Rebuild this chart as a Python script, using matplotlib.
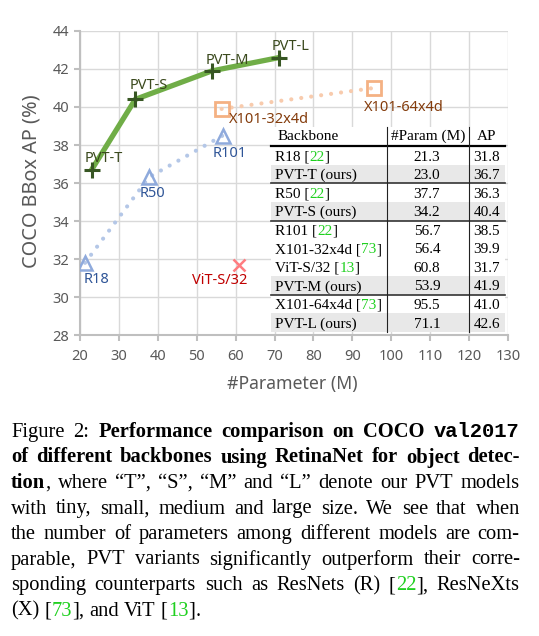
import matplotlib
matplotlib.use('Agg')
import matplotlib.pyplot as plt
from matplotlib.transforms import IdentityTransform
from matplotlib.patches import Rectangle
from matplotlib.lines import Line2D

W, H = 539, 636

# chart data
pvt_names = ['PVT-T', 'PVT-S', 'PVT-M', 'PVT-L']
pvt_params = [23.0, 34.2, 53.9, 71.1]
pvt_ap = [36.7, 40.4, 41.9, 42.6]

resnet_names = ['R18', 'R50', 'R101']
resnet_params = [21.3, 37.7, 56.7]
resnet_ap = [31.8, 36.3, 38.5]

resnext_names = ['X101-32x4d', 'X101-64x4d']
resnext_params = [56.4, 95.5]
resnext_ap = [39.9, 41.0]

vit_names = ['ViT-S/32']
vit_params = [60.8]
vit_ap = [31.7]

# inset table
tab_backbone = ['R18', 'PVT-T', 'R50', 'PVT-S', 'R101', 'X101-32x4d',
                'ViT-S/32', 'PVT-M', 'X101-64x4d', 'PVT-L']
tab_ref = ['22', '', '22', '', '22', '73', '13', '', '73', '']
tab_params = ['21.3', '23.0', '37.7', '34.2', '56.7', '56.4', '60.8', '53.9', '95.5', '71.1']
tab_ap = ['31.8', '36.7', '36.3', '40.4', '38.5', '39.9', '31.7', '41.9', '41.0', '42.6']

# label offsets in pixels (dx, dy of baseline anchor)
label_off = {
    'PVT-T': (12, 8), 'PVT-S': (13, 10), 'PVT-M': (15, 7), 'PVT-L': (12, 8),
    'R18': (-1, -20), 'R50': (-9, -20), 'R101': (-10, -21),
    'X101-32x4d': (7, -14), 'X101-64x4d': (-10, -23), 'ViT-S/32': (9, -19),
}

fig = plt.figure(figsize=(W / 100, H / 100), dpi=100)
renderer = fig.canvas.get_renderer()
px = IdentityTransform()

sans = 'Noto Sans'
ax = fig.add_axes([80 / W, 1 - 335 / H, 428 / W, 304 / H])
ax.set_xlim(20, 130)
ax.set_ylim(28, 44)
ax.set_xticks(range(20, 131, 10))
ax.set_yticks(range(28, 45, 2))
ax.grid(True, color='#D9D9D9', lw=1)
ax.set_axisbelow(True)
for s in ['top', 'right']:
    ax.spines[s].set_visible(False)
for s in ['left', 'bottom']:
    ax.spines[s].set_color('#BFBFBF')
    ax.spines[s].set_linewidth(1.5)
ax.tick_params(color='#BFBFBF', labelcolor='#595959', length=4, width=1.5,
               labelsize=10.5)
ax.tick_params(axis='x', pad=6)
ax.tick_params(axis='y', pad=4)
for lab in ax.get_xticklabels() + ax.get_yticklabels():
    lab.set_family(sans)
ax.set_xlabel('#Parameter (M)', family=sans, fontsize=12.7, color='#595959')
ax.set_ylabel('COCO BBox AP (%)', family=sans, fontsize=14.3, color='#595959')
ax.xaxis.set_label_coords(0.495, -0.13)
ax.yaxis.set_label_coords(-0.09, 0.507)

ax.plot(resnet_params, resnet_ap, color='#B4C7E7', lw=3, linestyle=(0, (0.01, 2.4)),
        dash_capstyle='round', zorder=2)
ax.plot(resnext_params, resnext_ap, color='#F8CBAD', lw=3, linestyle=(0, (0.01, 2.4)),
        dash_capstyle='round', zorder=2)
ax.plot(pvt_params, pvt_ap, color='#70AD47', lw=3.8, zorder=3)
ax.plot(pvt_params, pvt_ap, ls='none', marker='+', ms=11, mew=2.2, color='#375623', zorder=4)
ax.plot(resnet_params, resnet_ap, ls='none', marker='^', ms=10, mew=1.8,
        mfc='none', mec='#8FAADC', zorder=4)
ax.plot(resnext_params, resnext_ap, ls='none', marker='s', ms=10, mew=2,
        mfc='none', mec='#F4B183', zorder=4)
ax.plot(vit_params, vit_ap, ls='none', marker='x', ms=8, mew=1.8, color='#FF7C80', zorder=4)


def put_labels(names, xs, ys, color, ha):
    for n, x, y in zip(names, xs, ys):
        dx, dy = label_off[n]
        ax.annotate(n, (x, y), xytext=(dx * 0.72, dy * 0.72), textcoords='offset points',
                    ha=ha, va='baseline', fontsize=10.5, family=sans, color=color, zorder=5)


put_labels(pvt_names, pvt_params, pvt_ap, '#3B4A1E', 'center')
put_labels(resnet_names, resnet_params, resnet_ap, '#2F5597', 'left')
put_labels(resnext_names, resnext_params, resnext_ap, '#843C0C', 'left')
put_labels(vit_names, vit_params, vit_ap, '#C00000', 'right')


def raw_width(s, **kw):
    t = fig.text(0, 0, s, transform=px, **kw)
    w = t.get_window_extent(renderer).width
    t.remove()
    return w


def text_width(s, **kw):
    # measure at 10x size for sub-pixel accuracy
    big = dict(kw, fontsize=kw['fontsize'] * 10)
    return (raw_width('x' + s + 'x', **big) - raw_width('xx', **big)) / 10


def draw_pieces(x, y, pieces, ha='left'):
    widths = [text_width(s, **st) for s, st in pieces]
    total = sum(widths)
    if ha == 'center':
        x -= total / 2
    for (s, st), w in zip(pieces, widths):
        fig.text(x, H - y, s, transform=px, va='baseline', **st)
        x += w


# ---- inset table ----
serif = 'Liberation Serif'
green = '#1FD01F'
tfs = 11
tn = dict(family=serif, fontsize=tfs, color='black')
tg = dict(family=serif, fontsize=tfs, color=green)
t_left, t_right, t_top = 271, 505, 127
head_bot = 146.3
row_h = 18.55
n_rows = len(tab_backbone)
t_bot = head_bot + row_h * n_rows
col1, col2 = 386.5, 469

fig.patches.append(Rectangle((t_left, H - t_bot), t_right - t_left, t_bot - t_top,
                             transform=px, facecolor='white', edgecolor='none', zorder=10))
for i, name in enumerate(tab_backbone):
    if name.startswith('PVT'):
        top = head_bot + row_h * i
        fig.patches.append(Rectangle((t_left, H - top - row_h), t_right - t_left, row_h,
                                     transform=px, facecolor='#E8E8E8', edgecolor='none',
                                     zorder=11))


def hline(y, lw, color):
    fig.lines.append(Line2D([t_left, t_right], [H - y, H - y], transform=px,
                            color=color, lw=lw, zorder=12))


hline(head_bot, 1.6, 'black')
for i in [1, 3, 7]:
    hline(head_bot + row_h * (i + 1), 1.2, '#333333')
for cx in [col1, col2]:
    fig.lines.append(Line2D([cx, cx], [H - t_top, H - t_bot], transform=px,
                            color='#222222', lw=0.8, zorder=12))

draw_pieces(278, 140, [('Backbone', tn)])
draw_pieces(428, 140, [('#Param (M)', tn)], ha='center')
draw_pieces(487, 140, [('AP', tn)], ha='center')
for i in range(n_rows):
    yb = head_bot + row_h * i + row_h / 2 + 5
    name = tab_backbone[i]
    if tab_ref[i]:
        pieces = [(name + ' [', tn), (tab_ref[i], tg), (']', tn)]
    else:
        pieces = [(name + ' (ours)', tn)]
    draw_pieces(275, yb, pieces)
    draw_pieces(427, yb, [(tab_params[i], tn)], ha='center')
    draw_pieces(487, yb, [(tab_ap[i], tn)], ha='center')
for t in fig.texts:
    t.set_zorder(13)

# ---- caption ----
cfs = 14.8
cn = dict(family=serif, fontsize=cfs, color='black')
cb = dict(family=serif, fontsize=cfs, color='black', weight='bold')
cm = dict(family='Liberation Mono', fontsize=cfs, color='black', weight='bold')
cg = dict(family=serif, fontsize=cfs, color=green)

caption = [
    [('Figure 2: ', cn), ('Performance comparison on COCO ', cb), ('val2017', cm)],
    [('of different backbones using RetinaNet for object detec-', cb)],
    [('tion', cb), (', where \u201cT\u201d, \u201cS\u201d, \u201cM\u201d and \u201cL\u201d denote our PVT models', cn)],
    [('with tiny, small, medium and large size.  We see that when', cn)],
    [('the number of parameters among different models are com-', cn)],
    [('parable, PVT variants significantly outperform their corre-', cn)],
    [('sponding counterparts such as ResNets (R) [', cn), ('22', cg), ('], ResNeXts', cn)],
    [('(X) [', cn), ('73', cg), ('], and ViT [', cn), ('13', cg), (']', cn), ('.', cn)],
]


def to_words(segs):
    words = [[]]
    for txt, st in segs:
        parts = txt.split(' ')
        for i, p in enumerate(parts):
            if i > 0:
                words.append([])
            if p:
                words[-1].append((p, st))
    return [w for w in words if w]


x0, x1 = 11, 520
base_y, line_h = 437, 25.5
space = text_width(' ', **cn)
for li, segs in enumerate(caption):
    words = to_words(segs)
    wws = [sum(text_width(s, **st) for s, st in w) for w in words]
    if li < len(caption) - 1:
        gap = (x1 - x0 - sum(wws)) / (len(words) - 1)
    else:
        gap = space
    x = x0
    y = base_y + line_h * li
    for w, ww in zip(words, wws):
        draw_pieces(x, y, w)
        x += ww + gap

fig.savefig('out.png', dpi=100)
